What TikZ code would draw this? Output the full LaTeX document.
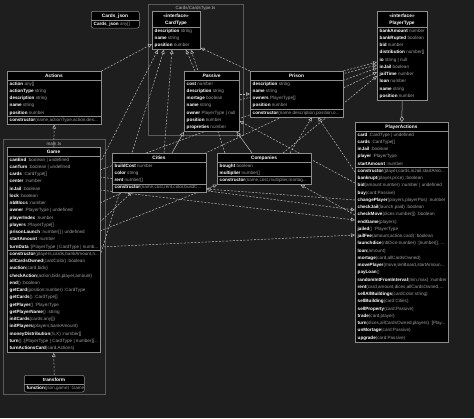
\documentclass[tikz,border=0pt]{standalone}
\usepackage{fontspec}
\setmainfont{Liberation Sans}
\usetikzlibrary{arrows.meta}

\definecolor{bgdark}{HTML}{1E1E1E}
\definecolor{boxline}{HTML}{8E8E8E}
\definecolor{framegray}{HTML}{5A5A5A}
\definecolor{typegray}{HTML}{A0A0A0}
\definecolor{linkgray}{HTML}{BDBDBD}

\pgfdeclarelayer{back}
\pgfdeclarelayer{links}
\pgfsetlayers{back,links,main}

% attribute row and method row
\newcommand{\arow}[2]{\textbf{#1}~\textcolor{typegray}{#2}}
\newcommand{\mrow}[2]{\textbf{#1}\textcolor{typegray}{#2}}
\newcommand{\classrows}[3]{%
  \foreach \rowtxt [count=\i from 0] in {#3}
    \node[row] at (#1,#2+7.25*\i) {\rowtxt};}

\tikzset{
  classbox/.style={draw=boxline, fill=black, line width=0.5pt, anchor=north west, inner sep=0pt},
  roundbox/.style={classbox, rounded corners=2pt},
  pkgframe/.style={draw=framegray, line width=0.5pt},
  sep/.style={draw=boxline, line width=0.4pt},
  row/.style={anchor=base west, inner sep=0pt, text=white, font=\fontsize{4.6}{5}\selectfont},
  title/.style={anchor=base, inner sep=0pt, text=white, font=\fontsize{4.8}{5}\selectfont\bfseries},
  pkglabel/.style={anchor=base, inner sep=0pt, text=typegray!70!white, font=\fontsize{4.5}{5}\selectfont},
  dep/.style={draw=linkgray, line width=0.5pt, dash pattern=on 2pt off 1.5pt, -{Triangle[open, length=4pt, width=3.5pt]}},
  ext/.style={draw=linkgray, line width=0.5pt, -{Triangle[open, length=4.5pt, width=4pt]}},
  aggr/.style={draw=linkgray, line width=0.5pt, -{Diamond[open, length=6pt, width=4pt]}},
}

\begin{document}
\begin{tikzpicture}[x=1pt, y=-1pt]
\begin{pgfonlayer}{back}
  \fill[bgdark] (0,0) rectangle (474,418);
  % package frames
  \draw[pkgframe] (148,4) rectangle (243,135);
  \node[pkglabel] at (195.5,9) {Cards/CardsType.ts};
  \draw[pkgframe] (3,139) rectangle (105,394);
  \node[pkglabel] at (54,145) {main.ts};
\end{pgfonlayer}
\useasboundingbox (0,0) rectangle (474,418);
%
% Cards_json
\node[roundbox, minimum width=48pt, minimum height=16.75pt] (cardsjson) at (91,11) {};
\node[title] at (115,17.3) {Cards\_json};
\draw[sep] (91,20) -- (139,20);
\classrows{93.5}{25.2}{{\arow{Cards\_json}{any[]}}}
%
% CardType
\node[classbox, minimum width=48pt, minimum height=38.25pt] (cardtype) at (152,11) {};
\node[title] at (176,17.2) {«interface»};
\node[title] at (176,24) {CardType};
\draw[sep] (152,27) -- (200,27);
\classrows{154.5}{32.2}{{\arow{description}{string}},{\arow{name}{string}},{\arow{position}{number}}}
%
% PlayerType
\node[classbox, minimum width=50pt, minimum height=89pt] (playertype) at (377,11) {};
\node[title] at (402,17.2) {«interface»};
\node[title] at (402,24) {PlayerType};
\draw[sep] (377,27) -- (427,27);
\classrows{379.5}{32.2}{{\arow{bankAmount}{number}},{\arow{bankRupted}{boolean}},{\arow{bid}{number}},
  {\arow{distribution}{number[]}},{\arow{io}{string | null}},{\arow{inJail}{boolean}},
  {\arow{jailTime}{number}},{\arow{loan}{number}},{\arow{name}{string}},{\arow{position}{number}}}
%
% Actions
\node[classbox, minimum width=94pt, minimum height=53pt] (actions) at (7,71) {};
\node[title] at (54,77.3) {Actions};
\draw[sep] (7,80) -- (101,80);
\classrows{9.5}{85.2}{{\arow{action}{any[]}},{\arow{actionType}{string}},{\arow{description}{string}},
  {\arow{name}{string}},{\arow{position}{number}}}
\draw[sep] (7,116.25) -- (101,116.25);
\classrows{9.5}{121.45}{{\mrow{constructor}{(name,actionType,action,des...}}}
%
% Passive
\node[classbox, minimum width=55pt, minimum height=60.25pt] (passive) at (184,71) {};
\node[title] at (211.5,77.3) {\itshape Passive};
\draw[sep] (184,80) -- (239,80);
\classrows{186.5}{85.2}{{\arow{cost}{number}},{\arow{description}{string}},{\arow{mortage}{boolean}},
  {\arow{name}{string}},{\arow{owner}{PlayerType | null}},{\arow{position}{number}},{\arow{propreties}{number}}}
%
% Prison
\node[classbox, minimum width=93pt, minimum height=45.75pt] (prison) at (250,71) {};
\node[title] at (296.5,77.3) {Prison};
\draw[sep] (250,80) -- (343,80);
\classrows{252.5}{85.2}{{\arow{description}{string}},{\arow{name}{string}},{\arow{owners}{PlayerType[]}},
  {\arow{position}{number}}}
\draw[sep] (250,109) -- (343,109);
\classrows{252.5}{114.2}{{\mrow{constructor}{(name,description,position,o...}}}
%
% Game
\node[classbox, minimum width=93pt, minimum height=205.25pt] (game) at (7,147) {};
\node[title] at (53.5,153.3) {Game};
\draw[sep] (7,156) -- (100,156);
\classrows{9.5}{161.2}{{\arow{canEnd}{:boolean | undefined}},{\arow{canTurn}{:boolean | undefined}},
  {\arow{cards}{:CardType[]}},{\arow{center}{:number}},{\arow{inJail}{:boolean}},{\arow{lock}{:boolean}},
  {\arow{nbBlocs}{:number}},{\arow{owner}{:PlayerType | undefined}},{\arow{playerIndex}{:number}},
  {\arow{players}{:PlayerType[]}},{\arow{prisonLaunch}{:number[] | undefined}},{\arow{startAmount}{:number}},
  {\arow{turnData}{:[PlayerType | CardType | numb...}}}
\draw[sep] (7,250.25) -- (100,250.25);
\classrows{9.5}{255.45}{{\mrow{constructor}{(players,cards,bankAmount,n...}},{\mrow{allCardsOwned}{(cardColor) :boolean}},
  {\mrow{auction}{(card,bids)}},{\mrow{checkAction}{(action,bids,player,amount)}},{\mrow{end}{() :boolean}},
  {\mrow{getCard}{(position:number) :CardType}},{\mrow{getCards}{() :CardType[]}},{\mrow{getPlayer}{() :PlayerType}},
  {\mrow{getPlayerName}{() :string}},{\mrow{initCards}{(cards:any[])}},{\mrow{initPlayers}{(players,bankAmount)}},
  {\mrow{moneyDistribution}{(S,X) :number[]}},{\mrow{turn}{() :[PlayerType | CardType | number][...}},
  {\mrow{turnActionsCard}{(card,Actions)}}}
%
% transform
\node[roundbox, minimum width=60pt, minimum height=16.75pt] (transform) at (24,375) {};
\node[title] at (54,381.3) {transform};
\draw[sep] (24,384) -- (84,384);
\classrows{26.5}{389.2}{{\mrow{function}{(json,game) :Game}}}
%
% Cities
\node[classbox, minimum width=94pt, minimum height=38.5pt] (cities) at (112,153) {};
\node[title] at (159,159.3) {Cities};
\draw[sep] (112,162) -- (206,162);
\classrows{114.5}{167.2}{{\arow{buildCost}{number}},{\arow{color}{string}},{\arow{rent}{number[]}}}
\draw[sep] (112,183.75) -- (206,183.75);
\classrows{114.5}{188.95}{{\mrow{constructor}{(name,cost,rent,color,buildC...}}}
%
% Companies
\node[classbox, minimum width=94pt, minimum height=31.25pt] (companies) at (217,153) {};
\node[title] at (264,159.3) {Companies};
\draw[sep] (217,162) -- (311,162);
\classrows{219.5}{167.2}{{\arow{bought}{boolean}},{\arow{multiplier}{number[]}}}
\draw[sep] (217,176.5) -- (311,176.5);
\classrows{219.5}{181.7}{{\mrow{constructor}{(name,cost,multiplier,mortag...}}}
%
% PlayerActions
\node[classbox, minimum width=93pt, minimum height=219.75pt] (playeractions) at (355,122) {};
\node[title] at (401.5,128.3) {PlayerActions};
\draw[sep] (355,131) -- (448,131);
\classrows{357.5}{136.2}{{\arow{card}{:CardType | undefined}},{\arow{cards}{:CardType[]}},{\arow{inJail}{:boolean}},
  {\arow{player}{:PlayerType}},{\arow{startAmount}{:number}}}
\draw[sep] (355,167.25) -- (448,167.25);
\classrows{357.5}{172.45}{{\mrow{constructor}{(player,cards,inJail,startAmo...}},{\mrow{bankrupt}{(player,price) :boolean}},
  {\mrow{bid}{(amount:number) :number | undefined}},{\mrow{buy}{(card:Passive)}},
  {\mrow{changePlayer}{(players,playerPos) :number}},{\mrow{checkJail}{(launch,paid) :boolean}},
  {\mrow{checkMove}{(dices:number[]) :boolean}},{\mrow{endGame}{(players)}},{\mrow{jailed}{() :PlayerType}},
  {\mrow{jailFee}{(amount,action,card) :boolean}},{\mrow{launchdice}{(nbDice:number) :[number[], ...}},
  {\mrow{loan}{(amount)}},{\mrow{mortage}{(card,allCardsOwned)}},{\mrow{movePlayer}{(move,lenBoard,startAmoun...}},
  {\mrow{payLoan}{()}},{\mrow{randomIntFromInterval}{(min,max) :number}},{\mrow{rent}{(card,amount,dices,allCardsOwned,...}},
  {\mrow{sellAllBuildings}{(cardColor:string)}},{\mrow{sellBuilding}{(card:Cities)}},{\mrow{sellProperty}{(card:Passive)}},
  {\mrow{trade}{(card,player)}},{\mrow{turn}{(dices,allCardsOwned,players) :[Play...}},{\mrow{unMortage}{(card:Passive)}},
  {\mrow{upgrade}{(card:Passive)}}}
%
% connectors
\begin{pgfonlayer}{links}
  \draw[dep] (actions.north east) -- ([shift={(0,33)}]cardtype.north west);
  \draw[dep] (game.north) -- (actions.south);
  \draw[dep] (transform.north) -- (game.south);
  \draw[dep] ([shift={(93,16)}]game.north west) -- ([shift={(6,0)}]cardtype.south west);
  \draw[dep] ([shift={(93,109)}]game.north west) -- ([shift={(12,0)}]cardtype.south west);
  \draw[dep] ([shift={(52,0)}]cities.north west) -- ([shift={(20,0)}]cardtype.south west);
  \draw[dep] ([shift={(11,0)}]passive.north west) -- ([shift={(34,0)}]cardtype.south west);
  \draw[dep] ([shift={(8,0)}]companies.north west) -- ([shift={(39,0)}]cardtype.south west);
  \draw[dep] (prison.north west) -- ([shift={(0,-2)}]cardtype.south east);
  \draw[ext] ([shift={(60,0)}]cities.north west) -- (passive.south west);
  \draw[ext] ([shift={(35,0)}]companies.north west) -- ([shift={(-3,0)}]passive.south east);
  \draw[dep] ([shift={(0,23)}]passive.north east) -- ([shift={(0,23)}]prison.north west);
  \draw[dep] (prison.north east) -- ([shift={(0,51)}]playertype.north west);
  \draw[dep] ([shift={(0,29)}]passive.north east) -- ([shift={(0,54)}]playertype.north west);
  \draw[dep] ([shift={(93,23)}]game.north west) -- ([shift={(0,57)}]playertype.north west);
  \draw[dep] ([shift={(93,56)}]game.north west) -- ([shift={(0,61)}]playertype.north west);
  \draw[dep] ([shift={(66,0)}]companies.north west) -- ([shift={(0,65)}]playertype.north west);
  \draw[aggr] (playertype.south) -- (playeractions.north);
  \draw[dep] ([shift={(73,0)}]companies.north west) -- ([shift={(62,0)}]prison.south west);
  \draw[dep] ([shift={(0,50)}]playeractions.north west) -- ([shift={(68,0)}]prison.south west);
  \draw[dep] ([shift={(0,61)}]playeractions.north west) -- ([shift={(0,50)}]passive.north east);
  \draw[dep] ([shift={(0,93)}]playeractions.north west) -- ([shift={(-11,0)}]companies.south east);
  \draw[dep] ([shift={(0,78)}]playeractions.north west) -- ([shift={(0,-3)}]cities.south east);
  \draw[dep] ([shift={(93,30)}]game.north west) -- ([shift={(0,88)}]playeractions.north west);
  \draw[dep] ([shift={(93,43)}]game.north west) -- ([shift={(0,98)}]playeractions.north west);
  \draw[dep] ([shift={(93,100)}]game.north west) -- ([shift={(0,113)}]playeractions.north west);
  \draw[dep] ([shift={(93,84)}]game.north west) -- (companies.south west);
  \draw[dep] ([shift={(93,75)}]game.north west) -- ([shift={(20,0)}]cities.south west);
\end{pgfonlayer}
\end{tikzpicture}
\end{document}
